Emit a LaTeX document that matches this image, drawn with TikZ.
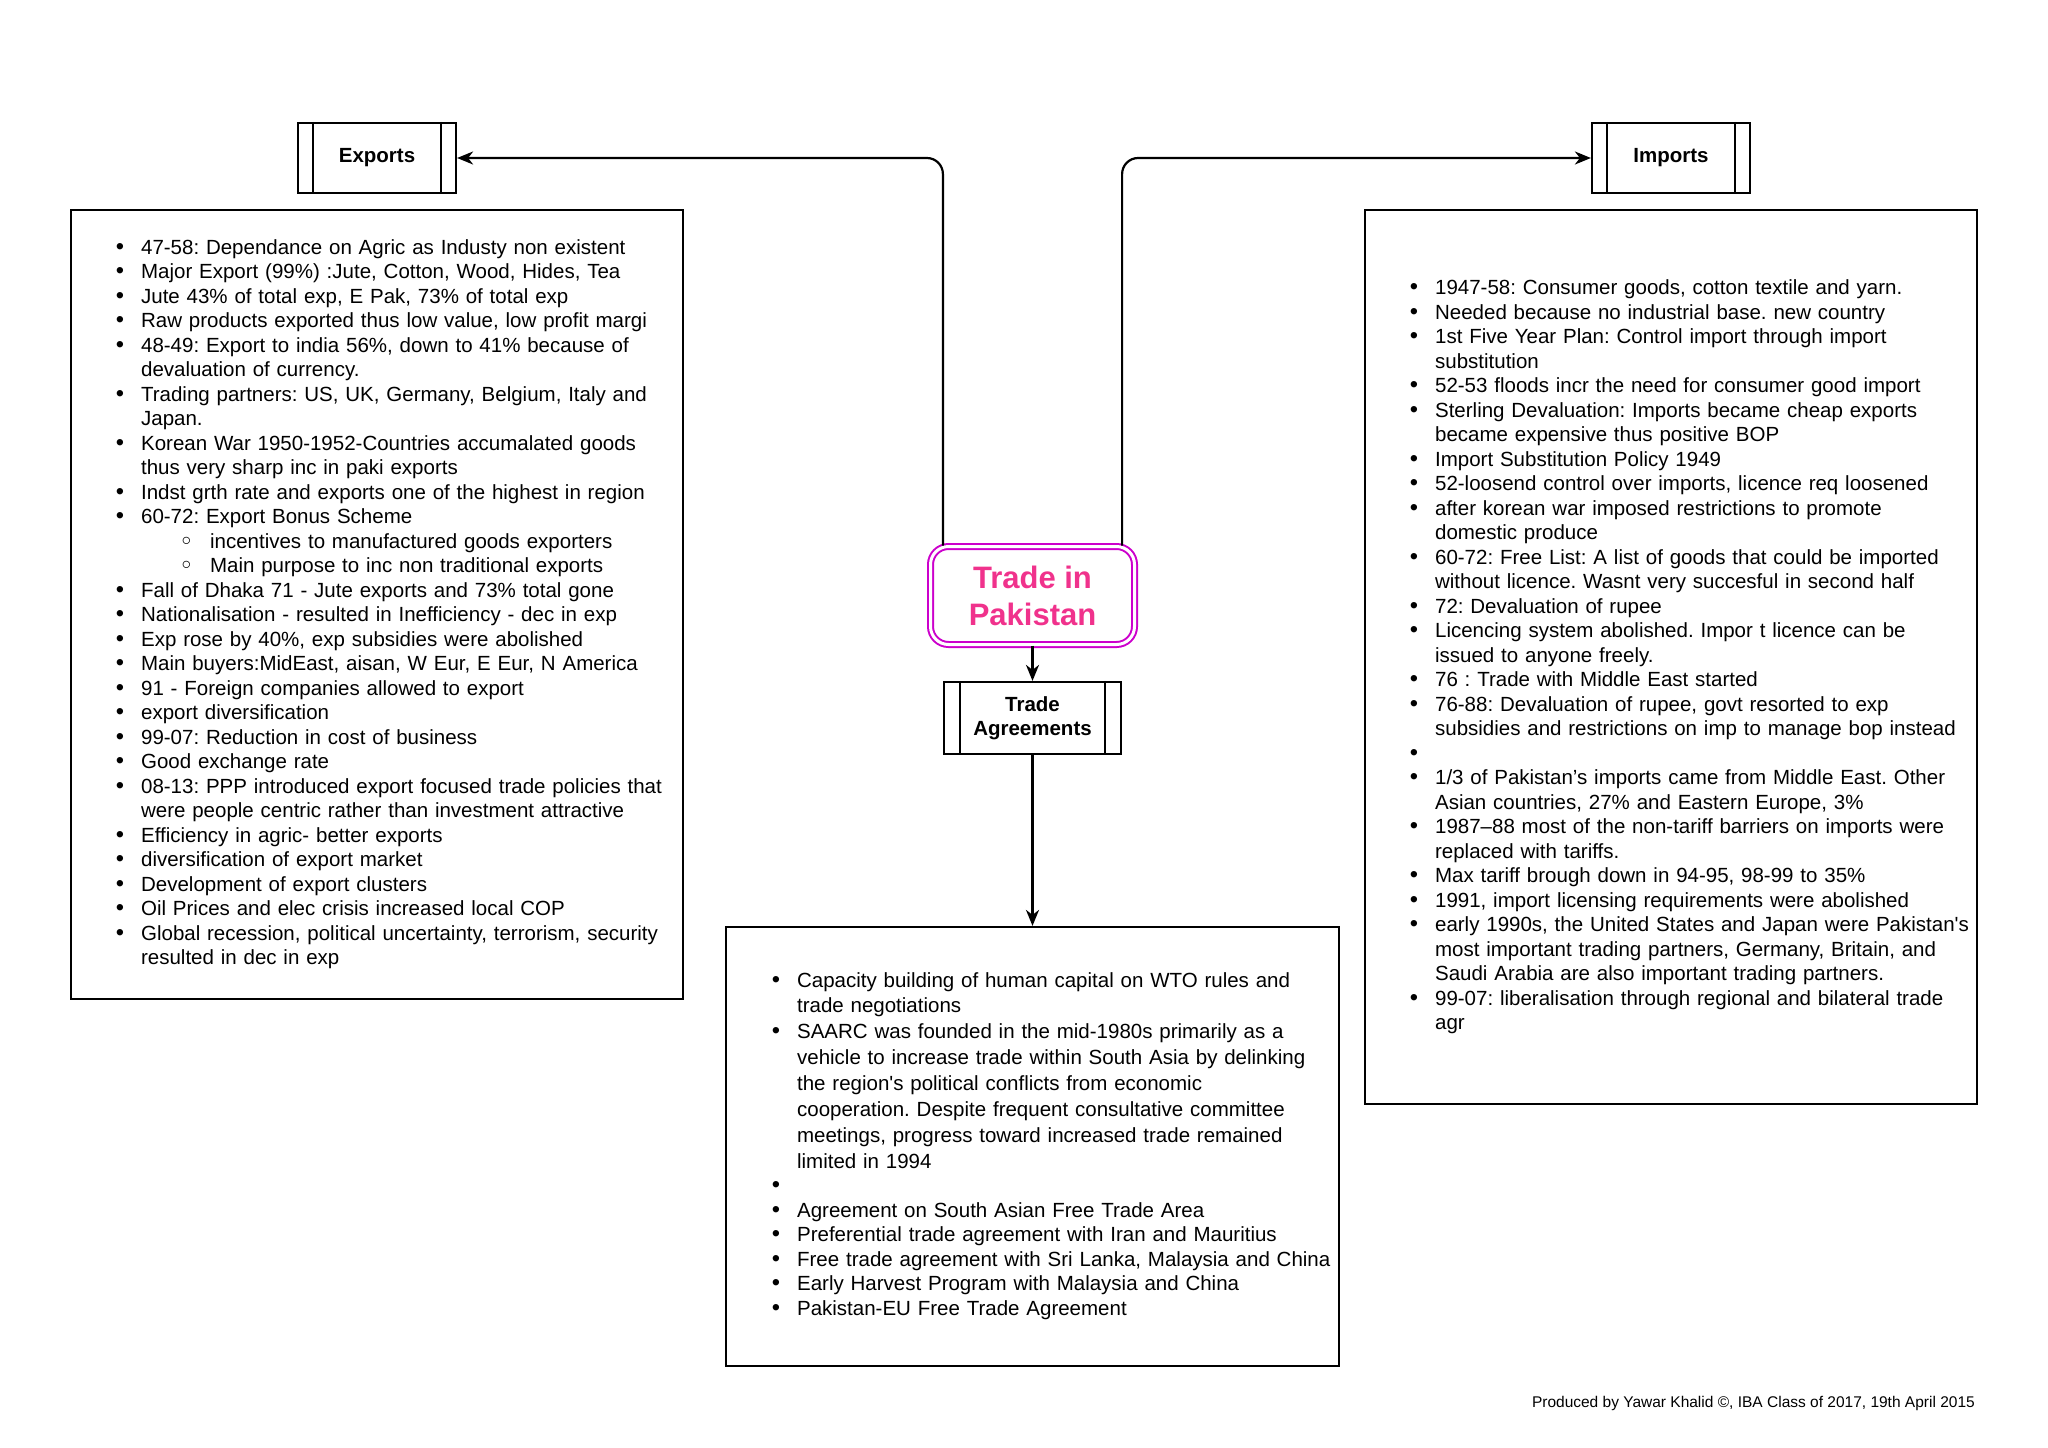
\documentclass[tikz,border=0pt]{standalone}
\usepackage{fontspec}
\setmainfont{Liberation Sans}
\newfontfamily\symfont{DejaVu Sans}
\usepackage{enumitem}
\usetikzlibrary{arrows.meta}
\frenchspacing
\setlist{itemsep=0pt,topsep=0pt,parsep=0pt,partopsep=0pt}
\setlist[itemize,1]{leftmargin=21pt,labelsep=17pt,label={\scalebox{1.15}{\textbullet}}}
\setlist[itemize,2]{leftmargin=69pt,labelsep=17pt,label={\symfont\bfseries ◦}}
\definecolor{tradeborder}{RGB}{204,0,204}
\definecolor{tradetext}{RGB}{240,50,140}
\tikzset{
  titlebox/.style={draw,line width=2.2pt,minimum height=70pt,inner sep=0pt,align=center,font=\fontsize{20.5}{24.5}\selectfont\bfseries},
  listbox/.style={draw,line width=2.2pt,inner sep=0pt},
  listtext/.style={inner sep=0pt,text width=620pt,anchor=west,yshift=5pt,font=\fontsize{20.5}{24.5}\selectfont\frenchspacing},
  conn/.style={line width=2.2pt,-{Stealth[length=16pt,width=13pt,inset=5pt]}}
}

\begin{document}
\begin{tikzpicture}[x=1pt,y=-1pt]
                      \useasboundingbox (0,0) rectangle (2048,1448);
                      \node[titlebox,minimum width=158pt](exp)at(377,158){Exports};
                      \node[titlebox,minimum width=158pt](imp)at(1671,158){Imports};
                      \node[draw=tradeborder,double=white,double distance=3pt,line width=2pt,rounded corners=18pt,minimum width=204pt,minimum height=98pt,text=tradetext,align=center,font=\fontsize{31}{37}\selectfont\bfseries](trade)at(1032.5,595.5){Trade in\\Pakistan};
                      \node[titlebox,minimum width=177pt,minimum height=72pt](agr)at(1032.5,718){Trade\\Agreements};
                      \foreach \n/\d in {exp/16,imp/16,agr/17}{
                        \draw[line width=2.2pt] ([xshift=\d pt]\n.north west) -- ([xshift=\d pt]\n.south west);
                        \draw[line width=2.2pt] ([xshift=-\d pt]\n.north east) -- ([xshift=-\d pt]\n.south east);
                      }
                      \node[listbox,minimum width=612pt,minimum height=789pt](expbox)at(377,604.5){};
                      \node[listbox,minimum width=612pt,minimum height=894pt](impbox)at(1671,657){};
                      \node[listbox,minimum width=613pt,minimum height=439pt](agrbox)at(1032.5,1146.5){};
                      \node[listtext](exptext)at([xshift=50pt]expbox.west){
                        \begin{itemize}
                        \item 47-58: Dependance on Agric as Industy non existent
                        \item Major Export (99\%) :Jute, Cotton, Wood, Hides, Tea
                        \item Jute 43\% of total exp, E Pak, 73\% of total exp
                        \item Raw products exported thus low value, low profit margi
                        \item 48-49: Export to india 56\%, down to 41\% because of\newline devaluation of currency.
                        \item Trading partners: US, UK, Germany, Belgium, Italy and\newline Japan.
                        \item Korean War 1950-1952-Countries accumalated goods\newline thus very sharp inc in paki exports
                        \item Indst grth rate and exports one of the highest in region
                        \item 60-72: Export Bonus Scheme
                          \begin{itemize}
                          \item incentives to manufactured goods exporters
                          \item Main purpose to inc non traditional exports
                          \end{itemize}
                        \item Fall of Dhaka 71 - Jute exports and 73\% total gone
                        \item Nationalisation - resulted in Inefficiency - dec in exp
                        \item Exp rose by 40\%, exp subsidies were abolished
                        \item Main buyers:MidEast, aisan, W Eur, E Eur, N America
                        \item 91 - Foreign companies allowed to export
                        \item export diversification
                        \item 99-07: Reduction in cost of business
                        \item Good exchange rate
                        \item 08-13: PPP introduced export focused trade policies that\newline were people centric rather than investment attractive
                        \item Efficiency in agric- better exports
                        \item diversification of export market
                        \item Development of export clusters
                        \item Oil Prices and elec crisis increased local COP
                        \item Global recession, political uncertainty, terrorism, security\newline resulted in dec in exp
                        \end{itemize}};
                      \node[listtext](imptext)at([xshift=50pt]impbox.west){
                        \begin{itemize}
                        \item 1947-58: Consumer goods, cotton textile and yarn.
                        \item Needed because no industrial base. new country
                        \item 1st Five Year Plan: Control import through import\newline substitution
                        \item 52-53 floods incr the need for consumer good import
                        \item Sterling Devaluation: Imports became cheap exports\newline became expensive thus positive BOP
                        \item Import Substitution Policy 1949
                        \item 52-loosend control over imports, licence req loosened
                        \item after korean war imposed restrictions to promote\newline domestic produce
                        \item 60-72: Free List: A list of goods that could be imported\newline without licence. Wasnt very succesful in second half
                        \item 72: Devaluation of rupee
                        \item Licencing system abolished. Impor t licence can be\newline issued to anyone freely.
                        \item 76 : Trade with Middle East started
                        \item 76-88: Devaluation of rupee, govt resorted to exp\newline subsidies and restrictions on imp to manage bop instead
                        \item \mbox{}
                        \item 1/3 of Pakistan’s imports came from Middle East. Other\newline Asian countries, 27\% and Eastern Europe, 3\%
                        \item 1987–88 most of the non-tariff barriers on imports were\newline replaced with tariffs.
                        \item Max tariff brough down in 94-95, 98-99 to 35\%
                        \item 1991, import licensing requirements were abolished
                        \item early 1990s, the United States and Japan were Pakistan\textquotesingle s\newline most important trading partners, Germany, Britain, and\newline Saudi Arabia are also important trading partners.
                        \item 99-07: liberalisation through regional and bilateral trade\newline agr
                        \end{itemize}};
                      \node[listtext](agrtext)at([xshift=51pt]agrbox.west){
                        \begin{itemize}
                        \item Capacity building of human capital on WTO rules and\newline trade negotiations
                        \item {\fontsize{20.5}{26}\selectfont SAARC was founded in the mid-1980s primarily as a\newline vehicle to increase trade within South Asia by delinking\newline the region\textquotesingle s political conflicts from economic\newline cooperation. Despite frequent consultative committee\newline meetings, progress toward increased trade remained\newline limited in 1994\par}
                        \item \mbox{}
                        \item Agreement on South Asian Free Trade Area
                        \item Preferential trade agreement with Iran and Mauritius
                        \item Free trade agreement with Sri Lanka, Malaysia and China
                        \item Early Harvest Program with Malaysia and China
                        \item Pakistan-EU Free Trade Agreement
                        \end{itemize}};
                      \node[anchor=base east,inner sep=0pt,font=\fontsize{15.5}{18}\selectfont](credit)at(1975,1407){Produced by Yawar Khalid ©, IBA Class of 2017, 19th April 2015};
                      \draw[conn,rounded corners=16pt] (trade.north -| agr.west) |- (exp.east);
                      \draw[conn,rounded corners=16pt] (trade.north -| agr.east) |- (imp.west);
                      \draw[conn] (trade) -- (agr);
                      \draw[conn] (agr) -- (agrbox);
                  \end{tikzpicture}
\end{document}
